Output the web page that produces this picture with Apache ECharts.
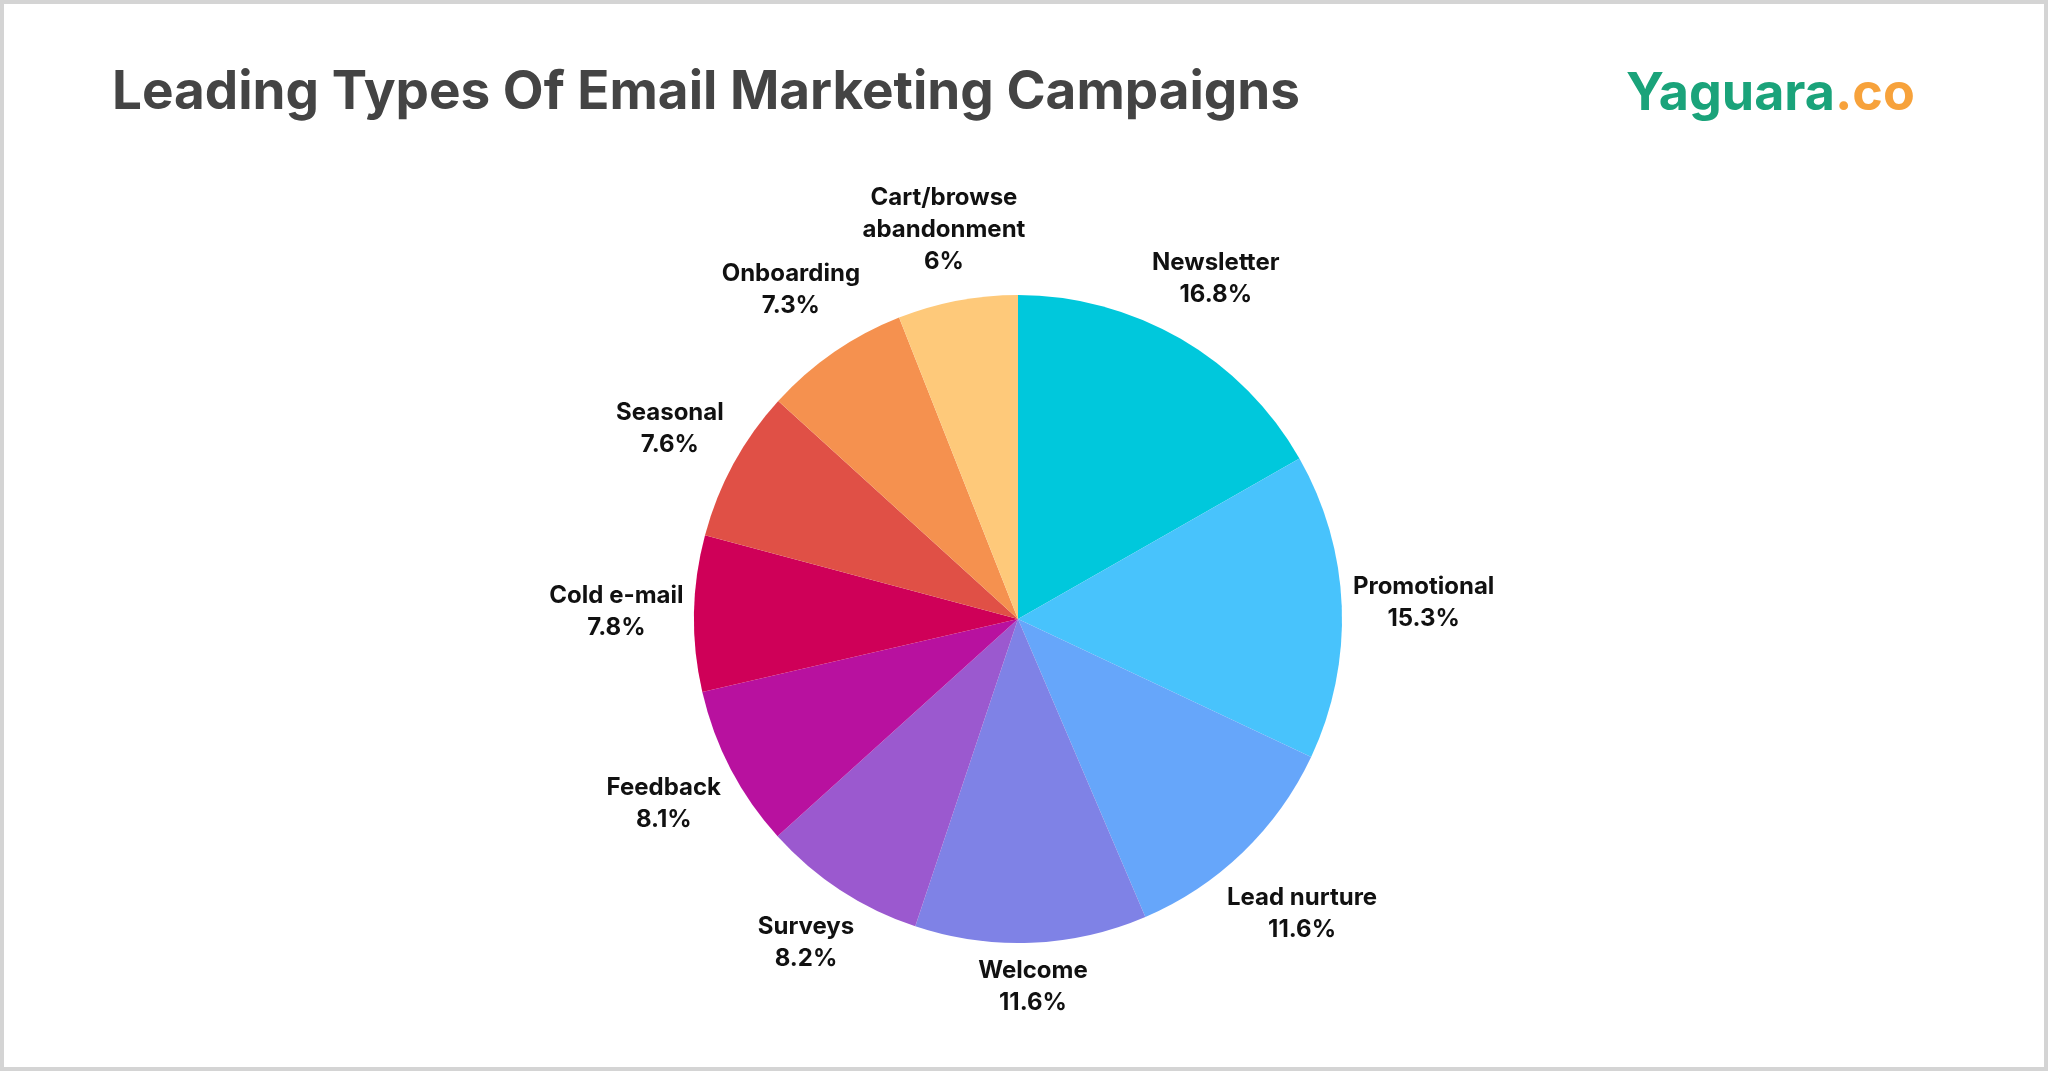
<!DOCTYPE html>
<html><head><meta charset="utf-8">
<script src="https://cdn.jsdelivr.net/npm/echarts@6/dist/echarts.min.js"></script>
<style>html,body{margin:0;padding:0;background:#fff}#c{width:2048px;height:1071px;box-sizing:border-box;border:4px solid #d4d4d4}</style>
</head><body><div id="c"></div>
<script>
const categories=["Newsletter","Promotional","Lead nurture","Welcome","Surveys","Feedback","Cold e-mail","Seasonal","Onboarding","Cart/browse\nabandonment"];
const values=[16.8,15.3,11.6,11.6,8.2,8.1,7.8,7.6,7.3,6];
const colors=["#00c8dc","#48c3fc","#66a6fa","#7f82e6","#9b59cf","#b8119f","#cf0058","#e05046","#f5914f","#fec97a"];
const CX=1014, CY=615, R=324;
const total=values.reduce((a,b)=>a+b,0);
const mids=[];let acc=0;values.forEach(v=>{mids.push((acc+v/2)/total*2*Math.PI);acc+=v;});
const chart=echarts.init(document.getElementById('c'));
chart.setOption({
  animation:false,
  title:{text:"Leading Types Of Email Marketing Campaigns",left:103,top:58,textStyle:{fontFamily:"Inter",fontWeight:"bold",fontSize:53,color:"#444"}},
  graphic:[{type:'text',left:1622,top:64,style:{rich:{a:{fill:'#1aa37a',fontFamily:'Inter',fontWeight:'bold',fontSize:52},b:{fill:'#f7a23b',fontFamily:'Inter',fontWeight:'bold',fontSize:52}},text:'{a|Yaguara}{b|.co}'}}],
  series:[{type:'pie',center:[CX,CY],radius:R,startAngle:90,clockwise:true,
    data:categories.map((n,i)=>({name:n,value:values[i],itemStyle:{color:colors[i]}})),
    label:{show:true,position:'outside',formatter:p=>p.name+"\n"+p.value+"%",color:'#111',fontFamily:'Inter',fontWeight:'bold',fontSize:24,lineHeight:32,align:'center'},
    labelLine:{show:false,length:30,length2:0},
    labelLayout:function(p){
      const a=mids[p.dataIndex];const s=Math.sin(a),c=-Math.cos(a);
      const hw=p.labelRect.width/2,hh=p.labelRect.height/2;
      const d=R+10+Math.abs(s)*hw+Math.abs(c)*hh;
      return {x:CX+s*d,y:CY+c*d,align:'center',verticalAlign:'middle'};
    }
  }]
});
</script></body></html>
